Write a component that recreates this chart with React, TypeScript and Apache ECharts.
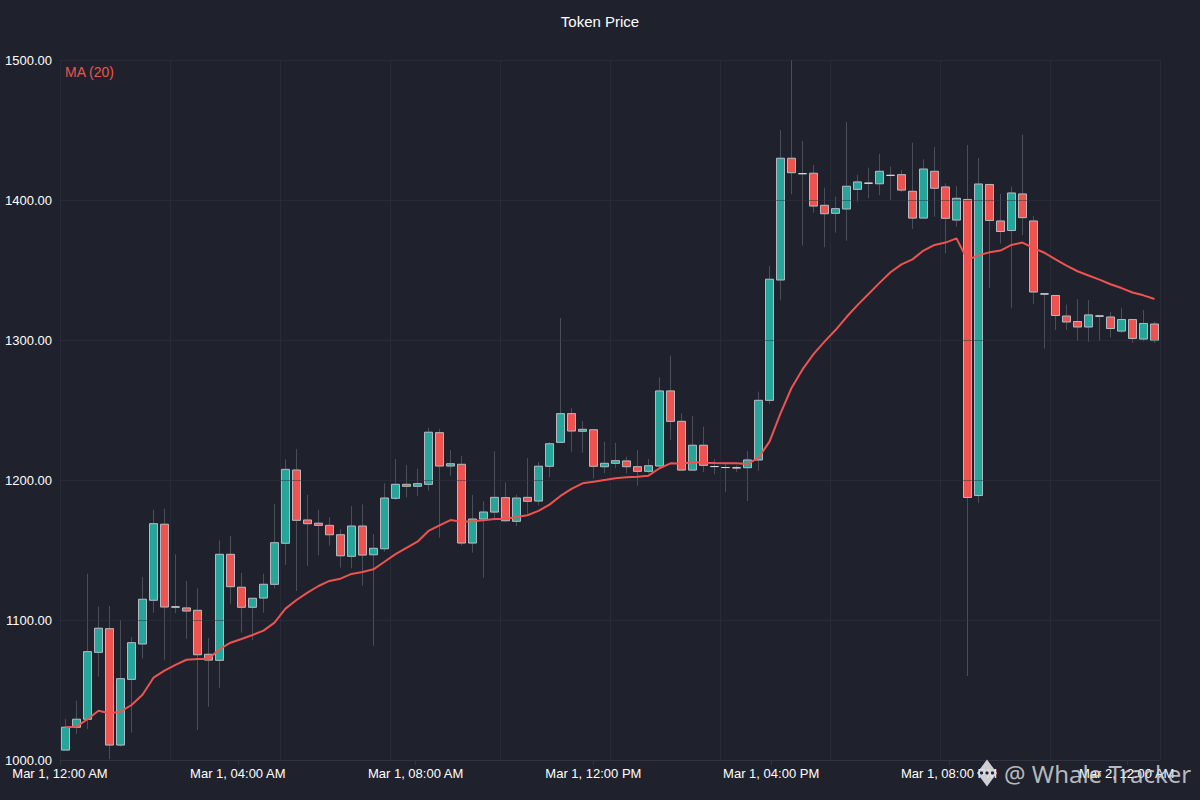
import React, { useEffect, useRef } from "react";
import * as echarts from "echarts";

const titleText = "Token Price";
const maName = "MA (20)";
const watermarkText = "@ Whale Tracker";

// tick labels of the time axis (one every 4 hours)
const xTickLabels = [
  "Mar 1, 12:00 AM",
  "Mar 1, 04:00 AM",
  "Mar 1, 08:00 AM",
  "Mar 1, 12:00 PM",
  "Mar 1, 04:00 PM",
  "Mar 1, 08:00 PM",
  "Mar 2, 12:00 AM",
];
const xTickPositions = [0, 1, 2, 3, 4, 5, 6];

const yMin = 1000;
const yMax = 1500;
const yStep = 100;

const opens = [
  1007.1, 1023.4, 1029.1, 1076.9, 1093.8, 1010.7, 1057.6, 1082.9, 1114.1, 1168.4,
  1109.3, 1108.6, 1106.9, 1075.5, 1071.2, 1146.9, 1123.4, 1109.1, 1115.7, 1125.5,
  1154.8, 1207.1, 1171.4, 1169.1, 1167.6, 1160.9, 1145.5, 1167.1, 1146.6, 1150.9,
  1186.9, 1196.9, 1195.5, 1196.9, 1233.8, 1210.0, 1211.2, 1155.0, 1172.1, 1177.1,
  1187.4, 1170.5, 1187.6, 1185.0, 1209.8, 1226.9, 1247.4, 1234.8, 1235.9, 1209.5,
  1211.9, 1213.6, 1209.5, 1206.2, 1210.0, 1263.6, 1241.9, 1207.1, 1224.8, 1209.6,
  1208.9, 1208.7, 1208.8, 1214.3, 1256.9, 1342.9, 1429.8, 1418.8, 1419.1, 1396.2,
  1390.5, 1393.6, 1407.6, 1412.0, 1411.6, 1417.6, 1418.1, 1406.2, 1387.1, 1420.5,
  1409.3, 1385.7, 1400.4, 1188.9, 1411.1, 1385.0, 1378.2, 1404.3, 1385.0, 1332.9,
  1331.8, 1317.1, 1313.2, 1309.3, 1317.1, 1316.4, 1306.4, 1314.6, 1300.7, 1311.4,
];

const closes = [
  1023.4, 1029.1, 1077.4, 1094.1, 1010.7, 1058.1, 1083.8, 1114.8, 1168.8, 1109.3,
  1109.3, 1106.4, 1075.2, 1071.4, 1146.9, 1123.8, 1109.1, 1115.5, 1125.5, 1155.2,
  1207.6, 1171.2, 1168.8, 1167.6, 1160.9, 1145.9, 1167.1, 1146.4, 1151.2, 1187.1,
  1196.9, 1195.5, 1197.4, 1234.1, 1210.0, 1211.6, 1155.0, 1172.1, 1177.1, 1187.6,
  1170.9, 1187.1, 1184.8, 1209.8, 1225.9, 1247.4, 1235.0, 1236.2, 1209.8, 1211.9,
  1213.8, 1209.5, 1206.2, 1210.2, 1263.6, 1241.9, 1207.1, 1224.8, 1210.5, 1209.6,
  1208.9, 1208.7, 1214.3, 1256.9, 1343.4, 1429.8, 1419.5, 1418.8, 1395.7, 1390.2,
  1393.8, 1409.8, 1412.9, 1412.0, 1420.5, 1417.6, 1407.1, 1387.1, 1422.1, 1408.4,
  1386.9, 1401.2, 1187.5, 1411.4, 1385.4, 1377.5, 1405.0, 1387.4, 1334.3, 1332.9,
  1317.5, 1312.9, 1309.3, 1317.9, 1317.1, 1308.2, 1314.6, 1301.1, 1311.8, 1299.6,
];

const lows = [
  1007.1, 1018.6, 1022.1, 1059.5, 1000.5, 1009.5, 1019.5, 1072.4, 1105.2, 1071.6,
  1104.8, 1086.6, 1021.4, 1038.1, 1051.6, 1111.6, 1090.9, 1085.7, 1105.2, 1122.6,
  1139.3, 1120.7, 1138.6, 1146.2, 1153.1, 1137.4, 1136.9, 1124.5, 1081.6, 1148.8,
  1185.7, 1187.6, 1188.6, 1192.4, 1158.8, 1203.1, 1153.1, 1148.1, 1130.2, 1171.2,
  1170.2, 1167.1, 1175.9, 1181.9, 1201.9, 1226.9, 1220.2, 1219.5, 1201.2, 1204.8,
  1208.4, 1204.8, 1195.9, 1204.8, 1209.5, 1228.6, 1206.6, 1206.4, 1205.7, 1204.1,
  1191.6, 1205.7, 1185.0, 1206.6, 1254.3, 1328.6, 1404.1, 1367.4, 1390.9, 1366.2,
  1376.6, 1370.9, 1398.8, 1401.2, 1403.4, 1400.0, 1405.7, 1379.3, 1387.1, 1388.1,
  1361.9, 1380.9, 1060.0, 1183.6, 1337.1, 1368.9, 1322.9, 1375.0, 1325.9, 1293.9,
  1307.1, 1307.1, 1299.3, 1298.6, 1299.3, 1301.8, 1305.0, 1297.9, 1298.9, 1297.9,
];

const highs = [
  1029.3, 1042.4, 1133.1, 1109.5, 1110.0, 1100.0, 1087.9, 1130.7, 1178.8, 1179.5,
  1146.9, 1127.9, 1122.6, 1087.1, 1156.9, 1160.0, 1133.6, 1115.7, 1133.1, 1182.9,
  1214.8, 1222.1, 1189.3, 1178.8, 1173.4, 1164.8, 1181.4, 1182.6, 1161.4, 1197.6,
  1215.0, 1210.7, 1208.1, 1237.4, 1236.4, 1221.4, 1217.1, 1189.3, 1184.8, 1220.5,
  1198.4, 1189.5, 1215.7, 1212.9, 1227.1, 1315.7, 1251.6, 1242.1, 1235.9, 1227.4,
  1226.6, 1216.6, 1221.4, 1215.0, 1273.4, 1288.8, 1247.6, 1245.7, 1238.1, 1214.8,
  1211.9, 1210.5, 1220.7, 1263.1, 1352.9, 1450.0, 1500.0, 1442.1, 1425.0, 1408.8,
  1402.4, 1455.7, 1417.9, 1423.1, 1432.9, 1423.8, 1421.4, 1440.9, 1429.1, 1437.9,
  1411.9, 1410.0, 1439.3, 1430.0, 1411.4, 1404.3, 1409.6, 1446.6, 1388.6, 1332.9,
  1331.8, 1325.3, 1329.3, 1328.6, 1317.1, 1320.0, 1322.9, 1314.6, 1321.4, 1313.2,
];

const ma20 = [
  1023.4, 1023.8, 1029.1, 1035.2, 1033.4, 1034.5, 1039.3, 1046.6, 1058.8, 1063.8,
  1067.9, 1071.6, 1072.1, 1072.1, 1079.1, 1083.8, 1086.4, 1089.3, 1092.4, 1098.1,
  1108.1, 1114.3, 1119.5, 1124.3, 1127.9, 1129.5, 1132.9, 1134.3, 1136.2, 1141.6,
  1147.1, 1151.6, 1155.9, 1163.6, 1167.6, 1171.4, 1170.2, 1170.5, 1171.2, 1172.1,
  1172.1, 1173.6, 1174.8, 1177.9, 1182.4, 1188.6, 1193.6, 1197.6, 1198.8, 1200.0,
  1201.2, 1201.9, 1202.4, 1203.1, 1208.4, 1211.9, 1211.6, 1212.9, 1212.4, 1212.1,
  1211.9, 1211.9, 1211.4, 1215.9, 1227.4, 1247.6, 1265.7, 1279.0, 1289.9, 1298.8,
  1307.1, 1316.4, 1324.9, 1332.9, 1340.8, 1348.4, 1354.0, 1357.6, 1363.9, 1367.9,
  1369.6, 1372.6, 1357.1, 1360.6, 1362.6, 1363.9, 1367.9, 1369.6, 1365.6, 1362.3,
  1357.6, 1353.1, 1349.1, 1346.1, 1343.1, 1339.8, 1337.1, 1333.9, 1331.9, 1329.3,
];

// one category per 15-minute candle
const categories = opens.map((_, i) => {
  const mins = i * 15;
  const h = Math.floor(mins / 60) % 24;
  const m = mins % 60;
  const day = 1 + Math.floor(mins / 1440);
  return `Mar ${day} ${String(h).padStart(2, "0")}:${String(m).padStart(2, "0")}`;
});

const BG = "#1f222d";
const UP = "#26a69a";
const DOWN = "#ef5350";
const GRID_LINE = "rgba(48,52,68,0.5)";
const AXIS_LINE = "#30343f";

export default function App() {
  const ref = useRef<HTMLDivElement>(null);

  useEffect(() => {
    document.body.style.margin = "0";
    if (!ref.current) return;
    const chart = echarts.init(ref.current, null, { renderer: "svg" });

    const candleData = opens.map((o, i) => [o, closes[i], lows[i], highs[i]]);
    const bodyData = opens.map((o, i) => [
      o,
      closes[i],
      Math.min(o, closes[i]),
      Math.max(o, closes[i]),
    ]);

    chart.setOption({
      animation: false,
      backgroundColor: BG,
      title: {
        text: titleText,
        left: "center",
        top: 9,
        textStyle: { color: "#ffffff", fontSize: 15, fontWeight: "normal" },
      },
      legend: {
        data: [{ name: maName, icon: "none" }],
        left: 55,
        top: 60,
        itemWidth: 0,
        itemHeight: 14,
        selectedMode: false,
        textStyle: { color: DOWN, fontSize: 14 },
      },
      grid: { left: 60, right: 40, top: 60, bottom: 40 },
      xAxis: [
        {
          type: "category",
          data: categories,
          boundaryGap: true,
          z: 3,
          axisLine: { show: true, lineStyle: { color: AXIS_LINE } },
          axisTick: { show: false },
          axisLabel: { show: false },
          splitLine: { show: true, interval: 9, lineStyle: { color: GRID_LINE } },
        },
        {
          type: "value",
          min: 0,
          max: 6.187,
          position: "bottom",
          z: 3,
          axisLine: { show: false },
          axisTick: {
            show: true,
            length: 5,
            customValues: xTickPositions,
            lineStyle: { color: AXIS_LINE },
          },
          axisLabel: {
            customValues: xTickPositions,
            color: "#ffffff",
            fontSize: 13,
            margin: 7,
            formatter: (v: number) => xTickLabels[Math.round(v)] ?? "",
          },
          splitLine: { show: false },
        },
      ],
      yAxis: {
        type: "value",
        min: yMin,
        max: yMax,
        interval: yStep,
        z: 3,
        axisLine: { show: false },
        axisTick: { show: false },
        axisLabel: {
          color: "#ffffff",
          fontSize: 13,
          margin: 8,
          formatter: (v: number) => v.toFixed(2),
        },
        splitLine: { show: true, lineStyle: { color: GRID_LINE } },
      },
      series: [
        {
          name: "wicks",
          type: "candlestick",
          xAxisIndex: 0,
          data: candleData,
          barWidth: 9,
          silent: true,
          z: 2,
          itemStyle: {
            color: "transparent",
            color0: "transparent",
            borderColor: "#4a4e59",
            borderColor0: "#4a4e59",
            borderColorDoji: "#4a4e59",
            borderWidth: 1,
          },
        },
        {
          name: "bodies",
          type: "candlestick",
          xAxisIndex: 0,
          data: bodyData,
          barWidth: 9,
          z: 2,
          itemStyle: {
            color: UP,
            color0: DOWN,
            borderColor: "#b4b8c0",
            borderColor0: "#b4b8c0",
            borderColorDoji: "#d8d8dc",
            borderWidth: 1,
          },
        },
        {
          name: maName,
          type: "line",
          xAxisIndex: 0,
          data: ma20,
          showSymbol: false,
          symbol: "none",
          z: 5,
          lineStyle: { color: DOWN, width: 2 },
          itemStyle: { color: DOWN },
        },
      ],
      graphic: [
        {
          type: "polygon",
          z: 100,
          shape: { points: [[987, 759.5], [997, 773], [987, 786.5], [977, 773]] },
          style: { fill: "rgba(222,222,226,0.92)" },
        },
        { type: "circle", z: 101, shape: { cx: 981.5, cy: 773, r: 1.6 }, style: { fill: BG } },
        { type: "circle", z: 101, shape: { cx: 987, cy: 773, r: 1.6 }, style: { fill: BG } },
        { type: "circle", z: 101, shape: { cx: 992.5, cy: 773, r: 1.6 }, style: { fill: BG } },
        {
          type: "text",
          z: 100,
          x: 1004,
          y: 773,
          style: {
            text: watermarkText,
            fontSize: 24,
            fontFamily: "Noto Sans",
            fill: "rgba(212,212,216,0.85)",
            align: "left",
            verticalAlign: "middle",
          },
        },
      ],
    });

    return () => chart.dispose();
  }, []);

  return <div ref={ref} style={{ width: 1200, height: 800 }} />;
}
